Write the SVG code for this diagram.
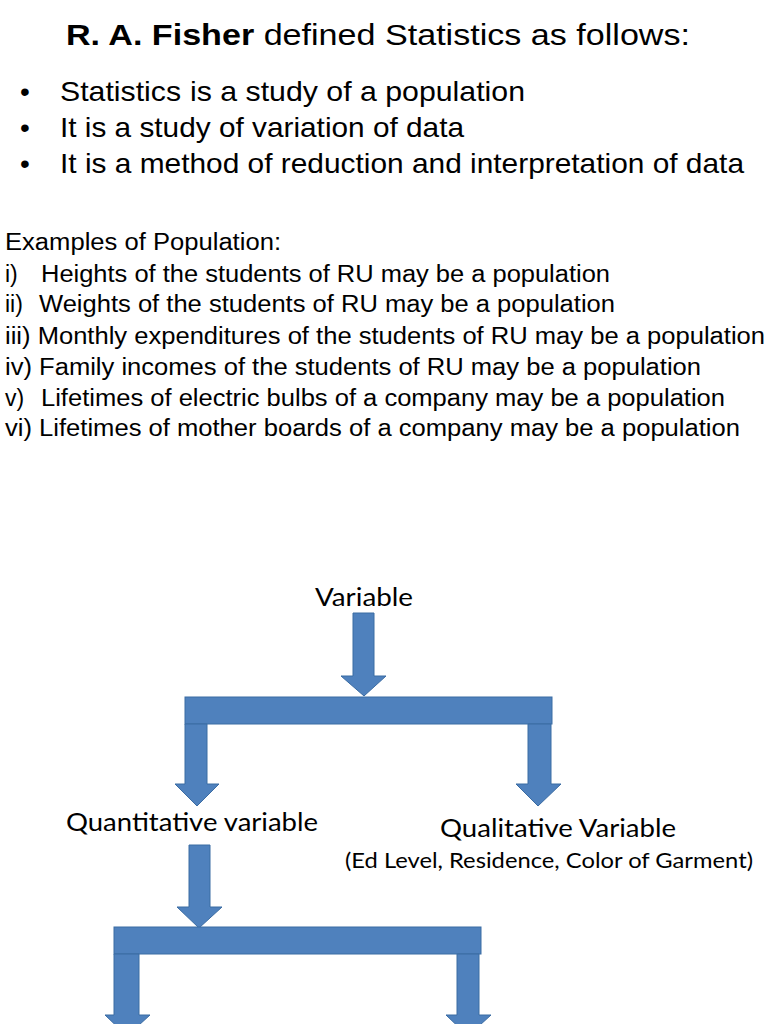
<svg xmlns="http://www.w3.org/2000/svg" width="768" height="1024" viewBox="0 0 768 1024">
<style>
.h{font-family:"Liberation Sans",Arial,sans-serif;fill:#000}
.c{font-family:Lato,"Open Sans",sans-serif;fill:#000}
.a{fill:#4F81BD;stroke:#3B6CA3;stroke-width:1}
</style>
<rect width="768" height="1024" fill="#fff"/>
<text class="h" x="66" y="45" font-size="29" textLength="624" lengthAdjust="spacingAndGlyphs"><tspan font-weight="bold">R. A. Fisher</tspan> defined Statistics as follows:</text>
<g class="h" font-size="28">
<text x="20" y="101">•</text><text x="60" y="101" textLength="121" lengthAdjust="spacingAndGlyphs">Statistics</text><text x="190" y="101" textLength="335" lengthAdjust="spacingAndGlyphs">is a study of a population</text>
<text x="20" y="137">•</text><text x="60" y="137" textLength="404" lengthAdjust="spacingAndGlyphs">It is a study of variation of data</text>
<text x="20" y="173">•</text><text x="60" y="173" textLength="684" lengthAdjust="spacingAndGlyphs">It is a method of reduction and interpretation of data</text>
</g>
<g class="h" font-size="23">
<text x="5" y="250" textLength="276" lengthAdjust="spacingAndGlyphs">Examples of Population:</text>
<text x="5" y="282">i)</text><text x="41" y="282" textLength="569" lengthAdjust="spacingAndGlyphs">Heights of the students of RU may be a population</text>
<text x="5" y="312">ii)</text><text x="39" y="312" textLength="576" lengthAdjust="spacingAndGlyphs">Weights of the students of RU may be a population</text>
<text x="5" y="344" textLength="760" lengthAdjust="spacingAndGlyphs">iii) Monthly expenditures of the students of RU may be a population</text>
<text x="5" y="375" textLength="696" lengthAdjust="spacingAndGlyphs">iv) Family incomes of the students of RU may be a population</text>
<text x="5" y="406">v)</text><text x="41" y="406" textLength="684" lengthAdjust="spacingAndGlyphs">Lifetimes of electric bulbs of a company may be a population</text>
<text x="5" y="436" textLength="735" lengthAdjust="spacingAndGlyphs">vi) Lifetimes of mother boards of a company may be a population</text>
</g>
<g id="variable"><text class="c" x="315" y="606" font-size="25" textLength="98" lengthAdjust="spacingAndGlyphs">Variable</text></g>
<g id="quantitative"><text class="c" x="66" y="831" font-size="25" textLength="252" lengthAdjust="spacingAndGlyphs">Quantitative variable</text></g>
<g id="qualitative"><text class="c" x="440" y="837" font-size="25" textLength="236" lengthAdjust="spacingAndGlyphs">Qualitative Variable</text>
<text class="c" x="345" y="868" font-size="21" textLength="408" lengthAdjust="spacingAndGlyphs">(Ed Level, Residence, Color of Garment)</text></g>
<g id="connectors">
<polygon class="a" points="353,613 374,613 374,676 386,676 364,696 341,676 353,676"/>
<rect class="a" x="185" y="697" width="367" height="27"/>
<polygon class="a" points="185,724 207,724 207,784 219,784 197,806 175,784 185,784"/>
<polygon class="a" points="528,724 551,724 551,784 561,784 538,806 516,784 528,784"/>
<polygon class="a" points="189,845 210,845 210,907 222,907 199,928 177,907 189,907"/>
<rect class="a" x="114" y="927" width="367" height="27"/>
<polygon class="a" points="114,954 139,954 139,1015 150,1015 127,1036 105,1015 114,1015"/>
<polygon class="a" points="457,954 479,954 479,1015 491,1015 468,1036 446,1015 457,1015"/>
</g>
</svg>
